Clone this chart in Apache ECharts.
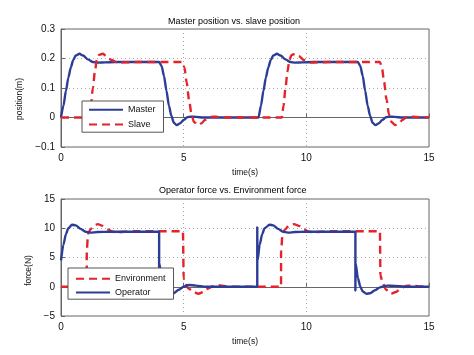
<!DOCTYPE html>
<html><head><meta charset="utf-8">
<script src="https://cdn.jsdelivr.net/npm/echarts@6/dist/echarts.min.js"></script>
<style>html,body{margin:0;padding:0;background:#fff}#c{width:474px;height:355px}</style>
</head><body><div id="c"></div><script>
// ---- data ----
const xTicks = [0, 5, 10, 15];
const posTicks = [-0.1, 0, 0.1, 0.2, 0.3];
const forceTicks = [-5, 0, 5, 10, 15];

const masterT = [0,0.1,0.2,0.3,0.4,0.5,0.6,0.75,0.9,1.1,1.3,1.5,1.8,2.2,4.0,4.1,4.2,4.3,4.4,4.5,4.6,4.72,4.85,5.0,5.15,5.3,5.5,5.8,8.05,8.15,8.25,8.35,8.45,8.55,8.65,8.8,8.95,9.15,9.35,9.55,9.85,10.25,12.1,12.2,12.3,12.4,12.5,12.6,12.7,12.82,12.95,13.1,13.25,13.4,13.6,13.9,15];
const masterV = [0,0.04,0.09,0.135,0.17,0.195,0.21,0.216,0.21,0.197,0.188,0.186,0.187,0.188,0.188,0.175,0.14,0.09,0.04,0.005,-0.018,-0.026,-0.02,-0.008,0.001,0.003,0.002,0,0,0.04,0.09,0.135,0.17,0.195,0.21,0.216,0.21,0.197,0.188,0.186,0.187,0.188,0.188,0.175,0.14,0.09,0.04,0.005,-0.018,-0.026,-0.02,-0.008,0.001,0.003,0.002,0,0];

const slaveT = [0,1.15,1.22,1.3,1.38,1.46,1.55,1.7,1.85,2.05,2.3,2.6,3.0,4.95,5.03,5.12,5.22,5.32,5.42,5.58,5.72,5.87,6.02,6.2,6.4,6.7,7.0,9.0,9.07,9.15,9.23,9.31,9.4,9.55,9.7,9.9,10.15,10.45,10.9,13.0,13.08,13.17,13.27,13.37,13.47,13.62,13.77,13.92,14.07,14.25,14.45,14.75,15];
const slaveV = [0,0,0.04,0.1,0.155,0.195,0.212,0.216,0.208,0.195,0.186,0.187,0.188,0.188,0.17,0.12,0.06,0.01,-0.015,-0.026,-0.02,-0.008,0.001,0.003,0.002,0,0,0,0.04,0.1,0.155,0.195,0.212,0.216,0.208,0.195,0.186,0.187,0.188,0.188,0.17,0.12,0.06,0.01,-0.015,-0.026,-0.02,-0.008,0.001,0.003,0.002,0,0];

const operatorT = [0,0.1,0.2,0.3,0.45,0.6,0.8,1.0,1.2,1.5,2.0,4.0,4.0,4.01,4.1,4.2,4.3,4.45,4.6,4.8,5.0,5.2,5.5,5.9,8.0,8.0,8.01,8.1,8.2,8.3,8.5,8.65,8.85,9.05,9.25,9.55,10.0,12.0,12.0,12.01,12.1,12.2,12.3,12.45,12.6,12.8,13.0,13.3,13.6,14.0,15];
const operatorV = [4.5,7.2,9.0,10.0,10.6,10.5,9.9,9.4,9.25,9.35,9.4,9.4,-0.7,4.0,1.5,0,-0.8,-1.2,-1.1,-0.5,0.0,0.3,0.2,0,0,10.2,4.5,7.2,9.0,10.0,10.6,10.5,9.9,9.4,9.25,9.35,9.4,9.4,-0.7,4.0,1.5,0,-0.8,-1.2,-1.1,-0.6,-0.1,0.2,0.15,0,0];

const environmentT = [0,1.05,1.05,1.1,1.2,1.35,1.5,1.7,1.9,2.1,2.3,2.6,3.0,4.97,5.0,5.05,5.2,5.4,5.6,5.8,6.0,6.2,6.4,6.7,7.0,8.97,8.97,9.03,9.13,9.3,9.5,9.7,9.9,10.1,10.3,10.6,11.0,13.0,13.02,13.1,13.25,13.45,13.65,13.85,14.05,14.3,14.6,15];
const environmentV = [0,0,6,9.0,9.8,10.5,10.7,10.4,9.8,9.4,9.3,9.4,9.5,9.5,1.5,0.5,-0.3,-0.9,-1.2,-0.9,-0.3,0.1,0.25,0.1,0,0,6,9.0,9.8,10.5,10.7,10.4,9.8,9.4,9.3,9.4,9.5,9.5,2.0,0.8,-0.5,-1.2,-0.9,-0.3,0.15,0.2,0.05,0];

// ---- chart ----
const zip = (t, v) => t.map((x, i) => [x, v[i]]);
const BLUE = '#2b3d97', RED = '#e4232b', AX = '#666';
const FONT = "'Liberation Sans', Arial, sans-serif";
const minus = v => String(v).replace('-', '\u2212');

function xAxis(gi) {
  return {
    type: 'value', gridIndex: gi, min: xTicks[0], max: xTicks[xTicks.length-1], interval: 5,
    name: 'time(s)', nameLocation: 'middle', nameGap: 21,
    nameTextStyle: {fontSize: 8.5, color: '#111', fontFamily: FONT},
    axisLine: {show: true, lineStyle: {color: AX}},
    axisTick: {show: true, inside: true, length: 4, lineStyle: {color: AX}},
    axisLabel: {fontSize: 10, color: '#111', margin: 6, fontFamily: FONT, formatter: minus},
    splitLine: {show: true, lineStyle: {color: '#aaa', type: [1, 3]}}
  };
}
function yAxis(gi, ticks, name, gap, shift) {
  return {
    type: 'value', gridIndex: gi, min: ticks[0], max: ticks[ticks.length-1], interval: ticks[1]-ticks[0],
    name: name, nameLocation: 'middle', nameGap: gap,
    nameTextStyle: {fontSize: 8.5, color: '#111', fontFamily: FONT, padding: [0, shift, 0, 0]},
    axisLine: {show: true, lineStyle: {color: AX}},
    axisTick: {show: true, inside: true, length: 4, lineStyle: {color: AX}},
    axisLabel: {fontSize: 10, color: '#111', margin: 6, fontFamily: FONT, formatter: minus},
    splitLine: {show: true, lineStyle: {color: '#aaa', type: [1, 3]}}
  };
}
function legend(names, left, top, pad, gap) {
  return {
    data: names, left: left, top: top, orient: 'vertical',
    itemWidth: 34, itemHeight: 12, itemGap: gap,
    padding: pad, borderColor: '#555', borderWidth: 1, backgroundColor: '#fff',
    itemStyle: {opacity: 0},
    textStyle: {fontSize: 9, color: '#111', fontFamily: FONT}
  };
}
function line(name, data, color, dashed, xi) {
  return {
    name: name, type: 'line', xAxisIndex: xi, yAxisIndex: xi, data: data,
    symbol: 'none', smooth: 0.25, smoothMonotone: 'x', animation: false,
    lineStyle: {color: color, width: 2.4, type: dashed ? [8, 5] : 'solid'},
    itemStyle: {color: color}
  };
}

const chart = echarts.init(document.getElementById('c'));
chart.setOption({
  animation: false,
  textStyle: {fontFamily: FONT},
  title: [
    {text: 'Master position vs. slave position', left: 163, top: 12,
     textStyle: {fontSize: 9, fontWeight: 'normal', color: '#000', fontFamily: FONT}},
    {text: 'Operator force vs. Environment force', left: 154, top: 181,
     textStyle: {fontSize: 9, fontWeight: 'normal', color: '#000', fontFamily: FONT}}
  ],
  grid: [
    {left: 61, top: 29, width: 368, height: 118, show: true, borderColor: AX, borderWidth: 1, backgroundColor: 'transparent'},
    {left: 61, top: 199, width: 368, height: 117, show: true, borderColor: AX, borderWidth: 1, backgroundColor: 'transparent'}
  ],
  xAxis: [xAxis(0), xAxis(1)],
  yAxis: [yAxis(0, posTicks, 'position(m)', 28, 22), yAxis(1, forceTicks, 'force(N)', 17, 26)],
  legend: [
    legend(['Master', 'Slave'], 82, 101, [4, 8, 3, 6], 5),
    legend(['Environment', 'Operator'], 68, 268, [6, 8, 2, 7], 4)
  ],
  series: [
    line('Master', zip(masterT, masterV), BLUE, false, 0),
    line('Slave', zip(slaveT, slaveV), RED, true, 0),
    line('Environment', zip(environmentT, environmentV), RED, true, 1),
    line('Operator', zip(operatorT, operatorV), BLUE, false, 1)
  ]
});
</script></body></html>
